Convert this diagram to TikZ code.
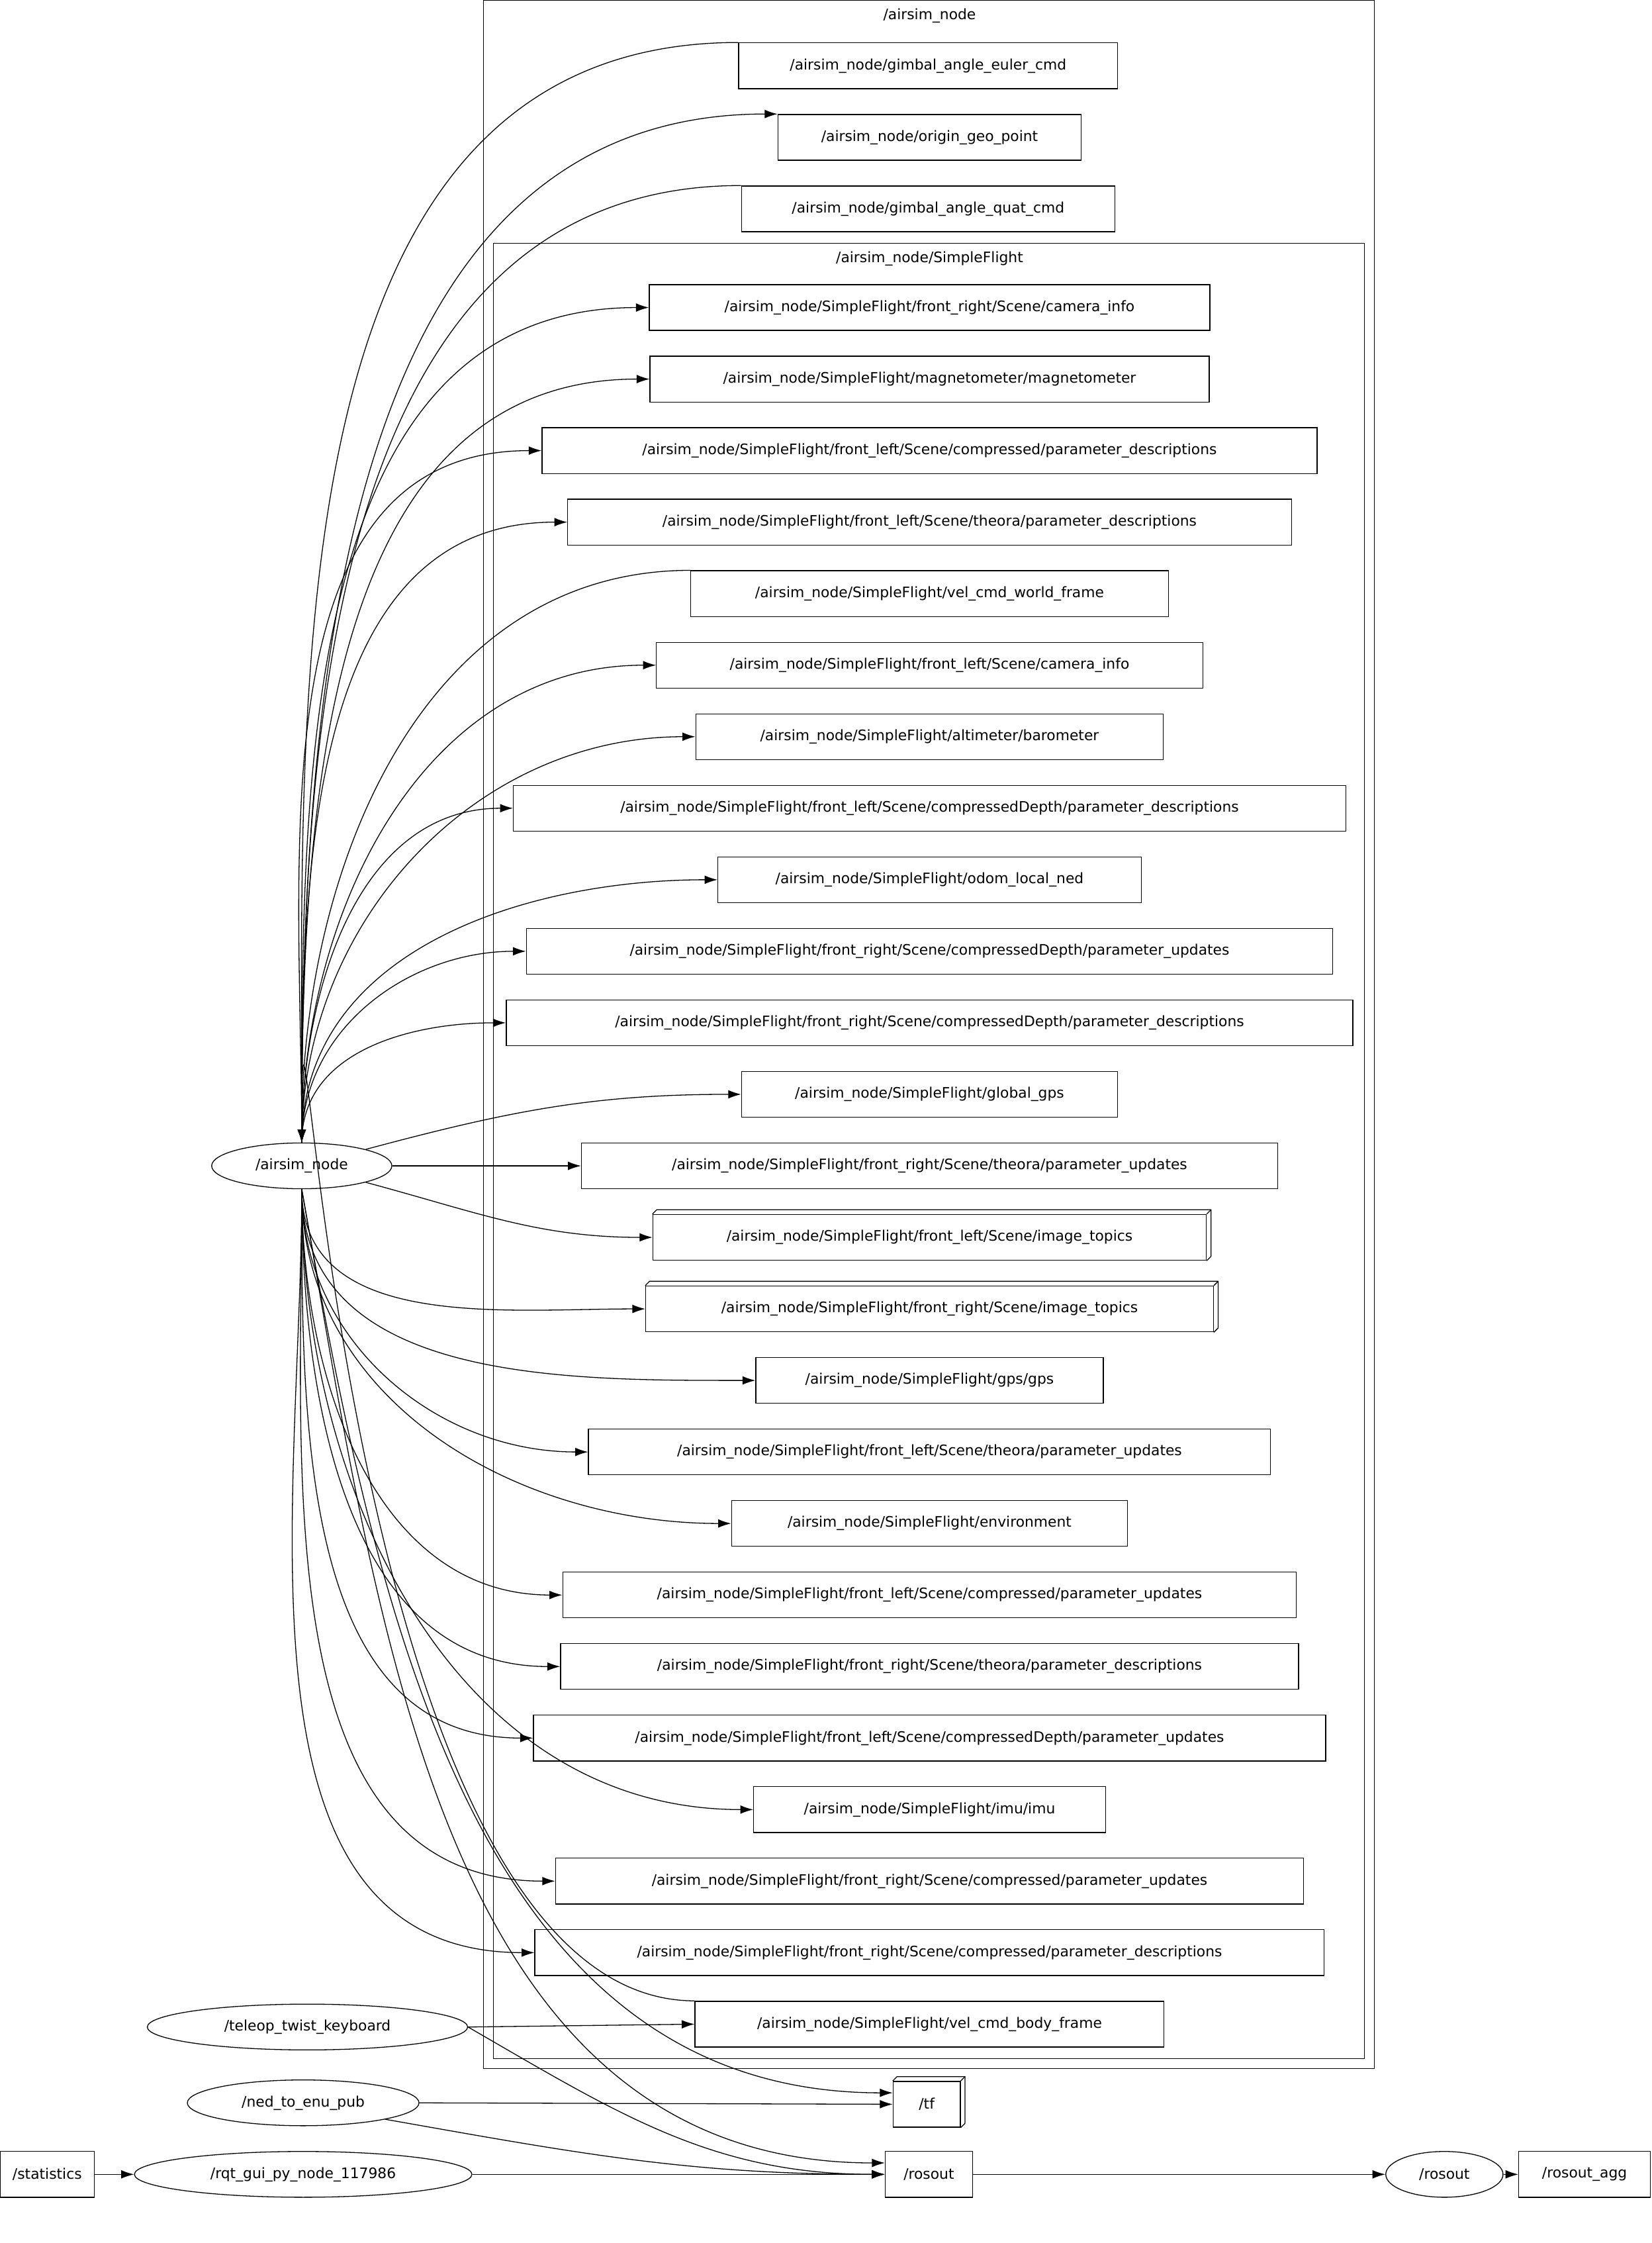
\documentclass[tikz,border=0pt]{standalone}
\usepackage{fontspec}
\setmainfont{DejaVu Sans}
\usetikzlibrary{arrows.meta,shapes.geometric}
\begin{document}
\begin{tikzpicture}[x=1pt,y=-1pt,font=\fontsize{10.1}{11}\selectfont,
 box/.style={draw,minimum height=32pt,inner sep=2pt},
 ell/.style={draw,ellipse,minimum height=32pt,inner sep=1pt},
 e/.style={-{Latex[length=9pt,width=6pt]},line width=0.6pt},
 every node/.style={line width=0.6pt}]
\path[use as bounding box] (0,0) rectangle (1155,1568);
\draw[line width=0.6pt] (338,0) rectangle (961,1446);
\node at (650,11) {/airsim\_node};
\draw[line width=0.6pt] (345,170) rectangle (954,1439);
\node at (650,181) {/airsim\_node/SimpleFlight};
\node[box,minimum width=265pt] (g1) at (649,46) {/airsim\_node/gimbal\_angle\_euler\_cmd};
\node[box,minimum width=212pt] (g2) at (650,96) {/airsim\_node/origin\_geo\_point};
\node[box,minimum width=261pt] (g3) at (649,146) {/airsim\_node/gimbal\_angle\_quat\_cmd};
\node[ell,minimum width=126pt] (an) at (211,815) {/airsim\_node};
\foreach \i/\y/\w/\t in {
1/215/392/{front\_right/Scene/camera\_info},
2/265/391/{magnetometer/magnetometer},
3/315/542/{front\_left/Scene/compressed/parameter\_descriptions},
4/365/506/{front\_left/Scene/theora/parameter\_descriptions},
5/415/334/{vel\_cmd\_world\_frame},
6/465/382/{front\_left/Scene/camera\_info},
7/515/327/{altimeter/barometer},
8/565/582/{front\_left/Scene/compressedDepth/parameter\_descriptions},
9/615/296/{odom\_local\_ned},
10/665/564/{front\_right/Scene/compressedDepth/parameter\_updates},
11/715/592/{front\_right/Scene/compressedDepth/parameter\_descriptions},
12/765/263/{global\_gps},
13/815/487/{front\_right/Scene/theora/parameter\_updates},
14/865/387/{front\_left/Scene/image\_topics},
15/915/397/{front\_right/Scene/image\_topics},
16/965/243/{gps/gps},
17/1015/477/{front\_left/Scene/theora/parameter\_updates},
18/1065/277/{environment},
19/1115/513/{front\_left/Scene/compressed/parameter\_updates},
20/1165/516/{front\_right/Scene/theora/parameter\_descriptions},
21/1215/554/{front\_left/Scene/compressedDepth/parameter\_updates},
22/1265/246/{imu/imu},
23/1315/523/{front\_right/Scene/compressed/parameter\_updates},
24/1365/552/{front\_right/Scene/compressed/parameter\_descriptions},
25/1415/328/{vel\_cmd\_body\_frame}}{
 \node[box,minimum width=\w pt] (t\i) at (650,\y) {/airsim\_node/SimpleFlight/\t};
}
\foreach \i in {14,15}{
 \draw[line width=0.6pt] (t\i.north west) -- ++(3,-3) -- ([shift={(3,-3)}]t\i.north east) -- ([shift={(3,-3)}]t\i.south east) -- (t\i.south east);
 \draw[line width=0.6pt] (t\i.north east) -- ++(3,-3);
}
\foreach \i in {1,2,3,4,6,7,8,9,10,11}{
 \draw[e] (an.north) to[out=90,in=180] (t\i.west);
}
\draw[e] (an.north) to[out=90,in=180] (g2.north west);
\draw[e] (an.north east) to[out=15,in=180] (t12.west);
\draw[e] (an.east) -- (t13.west);
\draw[e] (an.south east) to[out=-15,in=180] (t14.west);
\foreach \i in {15,16,17,18,19,20,21,22,23,24}{
 \draw[e] (an.south) to[out=-90,in=180] (t\i.west);
}
\foreach \i in {g1,g3,t5,t25}{
 \draw[e] (\i.north west) to[out=180,in=90] (an.north);
}
\node[ell,minimum width=224pt] (tk) at (215,1417) {/teleop\_twist\_keyboard};
\node[ell,minimum width=162pt] (ned) at (212,1470) {/ned\_to\_enu\_pub};
\node[ell,minimum width=236pt] (rqt) at (212,1520) {/rqt\_gui\_py\_node\_117986};
\node[box,minimum width=66pt] (st) at (33,1520) {/statistics};
\node[box,minimum width=47pt] (tf) at (648,1471) {/tf};
\draw[line width=0.6pt] (tf.north west) -- ++(3,-3) -- ([shift={(3,-3)}]tf.north east) -- ([shift={(3,-3)}]tf.south east) -- (tf.south east);
\draw[line width=0.6pt] (tf.north east) -- ++(3,-3);
\node[box,minimum width=61pt] (ro) at (649.5,1520) {/rosout};
\node[ell,minimum width=82pt] (roe) at (1010,1520) {/rosout};
\node[box,minimum width=92pt] (ra) at (1108,1520) {/rosout\_agg};
\draw[e] (tk.east) -- (t25.west);
\draw[e] (tk.east) to[out=-30,in=180] (ro.west);
\draw[e] (an.south) to[out=-80,in=180] ([yshift=8pt]tf.west);
\draw[e] (an.south) to[out=-80,in=180] ([yshift=8pt]ro.west);
\draw[e] (ned.east) -- (tf.west);
\draw[e] (ned.south east) to[out=-10,in=180] (ro.west);
\draw[e] (rqt.east) -- (ro.west);
\draw[e] (st.east) -- (rqt.west);
\draw[e] (ro.east) -- (roe.west);
\draw[e] (roe.east) -- (ra.west);
\end{tikzpicture}
\end{document}
